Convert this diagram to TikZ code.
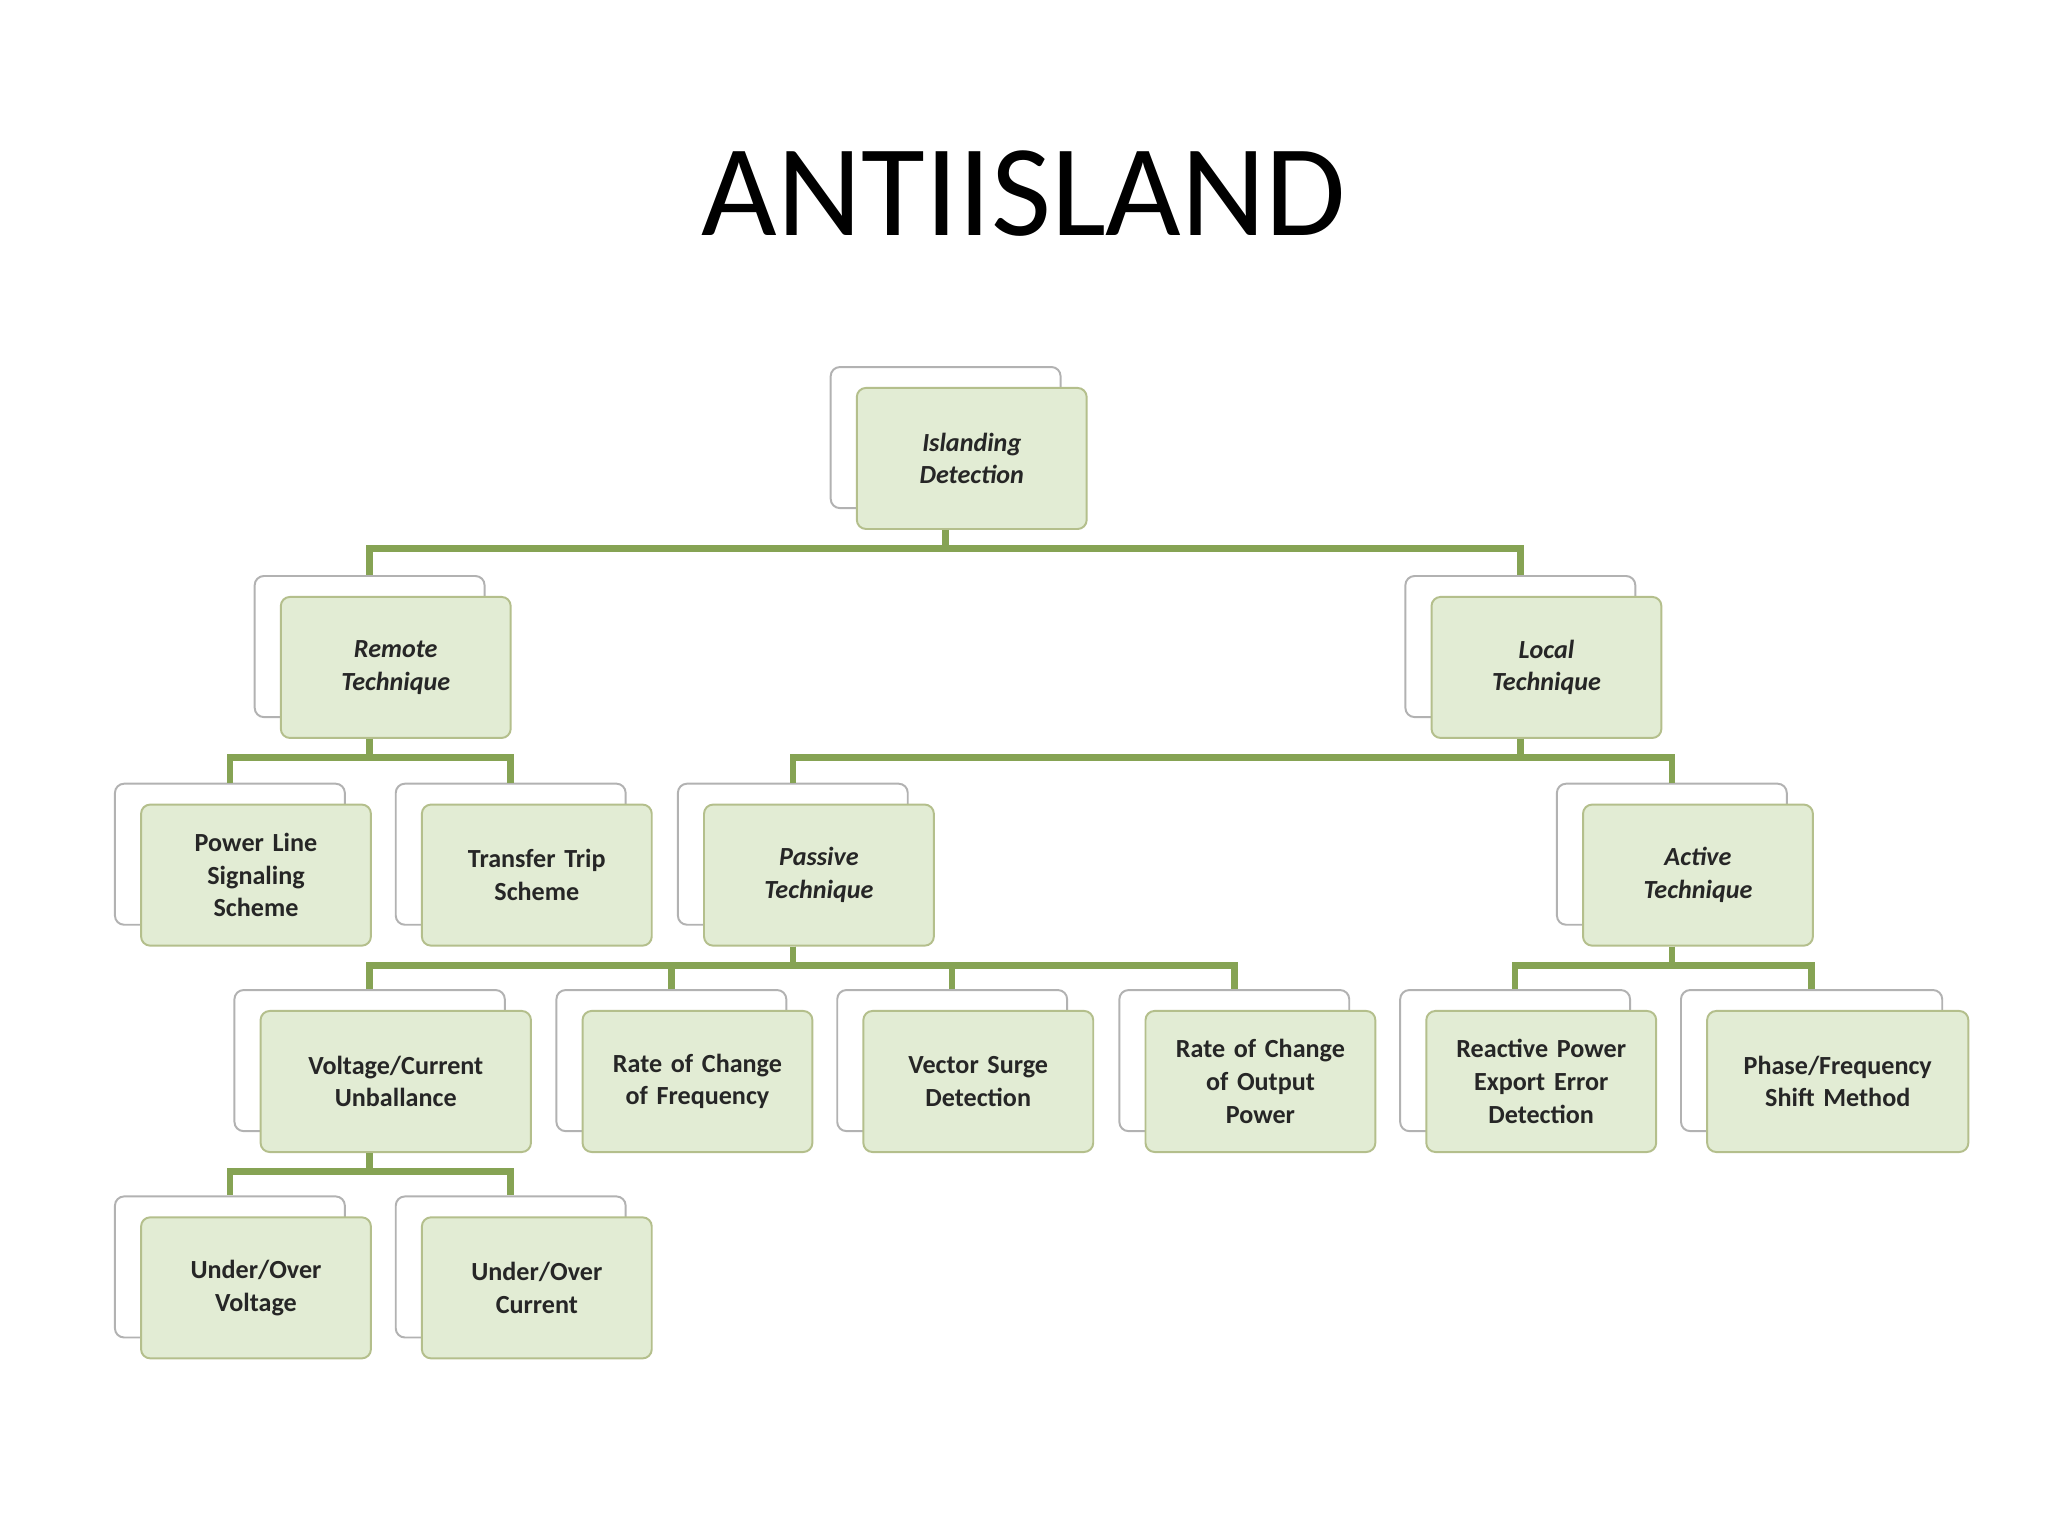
\documentclass[tikz,border=0pt]{standalone}
\usepackage{fontspec}
\setmainfont{Carlito}
\begin{document}
\begin{tikzpicture}[x=1pt,y=-1pt,
  front/.style={draw=green!30!black!30!olive!45, line width=1.5pt, fill={rgb,255:red,226;green,236;blue,212}, rounded corners=7pt, minimum height=108pt, align=center, font=\fontsize{20}{25}\selectfont\bfseries, text=black!85},
  back/.style={draw=black!30, line width=1.5pt, fill=white, rounded corners=7pt, minimum height=108pt},
  conn/.style={draw={rgb,255:red,134;green,163;blue,84}, line width=5pt}]
\useasboundingbox (0,0) rectangle (1568,1176);
\node[font=\fontsize{100}{110}\selectfont] (title) at (784,148) {ANTIISLAND};
% helper macro
\newcommand{\mybox}[5]{% name, x, y, width, text
  \node[back, minimum width=#4pt] (#1b) at (#2-20,#3-16) {};
  \node[front, minimum width=#4pt, text width=#4pt-20pt] (#1) at (#2,#3) {#5};}
\mybox{isl}{744}{351}{176}{\itshape Islanding\\\itshape Detection}
\mybox{rem}{303}{511}{176}{\itshape Remote\\\itshape Technique}
\mybox{loc}{1184}{511}{176}{\itshape Local\\\itshape Technique}
\mybox{pls}{196}{670}{176}{Power Line\\Signaling\\Scheme}
\mybox{tts}{411}{670}{176}{Transfer Trip\\Scheme}
\mybox{pas}{627}{670}{176}{\itshape Passive\\\itshape Technique}
\mybox{act}{1300}{670}{176}{\itshape Active\\\itshape Technique}
\mybox{vcu}{303}{828}{207}{Voltage/Current\\Unballance}
\mybox{rcf}{534}{828}{176}{Rate of Change\\of Frequency}
\mybox{vsd}{749}{828}{176}{Vector Surge\\Detection}
\mybox{rco}{965}{828}{176}{Rate of Change\\of Output\\Power}
\mybox{rpe}{1180}{828}{176}{Reactive Power\\Export Error\\Detection}
\mybox{pfs}{1407}{828}{200}{Phase/Frequency\\Shift Method}
\mybox{uov}{196}{986}{176}{Under/Over\\Voltage}
\mybox{uoc}{411}{986}{176}{Under/Over\\Current}
% connectors
\begin{scope}[on background layer/.style={}]
\end{scope}
\foreach \p/\c/\bus in {isl/rem/420, isl/loc/420, rem/pls/580, rem/tts/580, loc/pas/580, loc/act/580,
  pas/vcu/739, pas/rcf/739, pas/vsd/739, pas/rco/739, act/rpe/739, act/pfs/739, vcu/uov/897, vcu/uoc/897}
  \draw[conn] ([xshift=-20pt]\p.south) -- ([xshift=-20pt]\p.south |- 0,\bus) -| (\c b.north);
\end{tikzpicture}
\end{document}
